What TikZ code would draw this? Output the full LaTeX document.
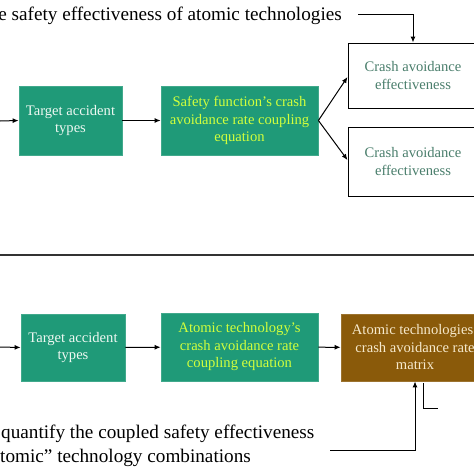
\documentclass[tikz,border=0pt]{standalone}
\usepackage{fontspec}
\setmainfont{Liberation Serif}
\usetikzlibrary{arrows.meta,calc}
\definecolor{boxgreen}{HTML}{1F9A78}
\definecolor{boxbrown}{HTML}{8A5A0A}
\definecolor{ytext}{HTML}{D2FF3C}
\definecolor{wtext}{HTML}{EEF8F2}
\definecolor{gtext}{HTML}{4A7E6C}
\definecolor{btext}{HTML}{F6E9CC}
\tikzset{
  x=1pt,y=-1pt,
  gbox/.style={fill=boxgreen,draw=boxgreen!85!white,line width=0.8pt,inner sep=0pt,align=center,font=\fontsize{14.6}{17.5}\selectfont},
  wbox/.style={draw=black,line width=1pt,fill=white,inner sep=0pt,align=center,text=gtext,font=\fontsize{14.6}{17.5}\selectfont},
  brbox/.style={fill=boxbrown,draw=boxbrown!85!white,line width=0.8pt,inner sep=0pt,align=center,text=btext,font=\fontsize{14.6}{17.5}\selectfont},
  conn/.style={line width=1pt,-{Latex[length=6pt,width=5pt]}},
  plain/.style={line width=1pt},
  bigtext/.style={font=\fontsize{19.2}{24}\selectfont,inner sep=0pt}
}
\begin{document}
\begin{tikzpicture}
\useasboundingbox (0,0) rectangle (474,474);
\clip (0,0) rectangle (474,474);
% top row
\node[bigtext,anchor=base east] (ttext) at (342,20) {e safety effectiveness of atomic technologies};
\coordinate (tstart) at (358,14);
\node[gbox,text=wtext,minimum width=103pt,minimum height=69pt] (tat1) at (70.5,120.5) {Target accident\\types};
\node[gbox,text=ytext,minimum width=157pt,minimum height=69pt] (sf) at (239.5,120.5) {Safety function’s crash\\avoidance rate coupling\\equation};
\node[wbox,minimum width=130pt,minimum height=65pt] (cae1) at (413,75.5) {Crash avoidance\\effectiveness};
\node[wbox,minimum width=130pt,minimum height=69pt] (cae2) at (413,161.5) {Crash avoidance\\effectiveness};
\coordinate (in1) at (0,121);
\draw[conn] (in1) -- (tat1.west);
\draw[conn] (tat1) -- (sf);
\draw[conn] (sf.east) -- (cae1.west |- 0,77);
\draw[conn] (sf.east) -- (cae2.west |- 0,160);
\draw[conn] (tstart) -| (cae1.north);
% divider
\coordinate (dl) at (0,255);
\coordinate (dr) at (474,255);
\draw[line width=1.6pt,draw=black!80] (dl) -- (dr);
% bottom row
\node[gbox,text=wtext,minimum width=104pt,minimum height=67pt] (tat2) at (73,347.5) {Target accident\\types};
\node[gbox,text=ytext,minimum width=157pt,minimum height=68pt] (atc) at (239.5,347) {Atomic technology’s\\crash avoidance rate\\coupling equation};
\node[brbox,minimum width=148pt,minimum height=67pt] (mat) at (415,347.5) {Atomic technologies’\\crash avoidance rate\\matrix};
\coordinate (in2) at (0,347);
\draw[conn] (in2) -- (tat2.west);
\draw[conn] (tat2) -- (atc);
\draw[conn] (atc) -- (mat);
\node[bigtext,anchor=base west] (q1) at (1,438) {quantify the coupled safety effectiveness};
\node[bigtext,anchor=base west] (q2) at (0,462) {tomic” technology combinations};
\coordinate (bstart) at (330,450);
\draw[conn] (bstart) -| (mat.south);
\coordinate (s1) at (423,383);
\coordinate (s2) at (438,408);
\draw[plain] (s1) |- (s2);
\end{tikzpicture}
\end{document}
